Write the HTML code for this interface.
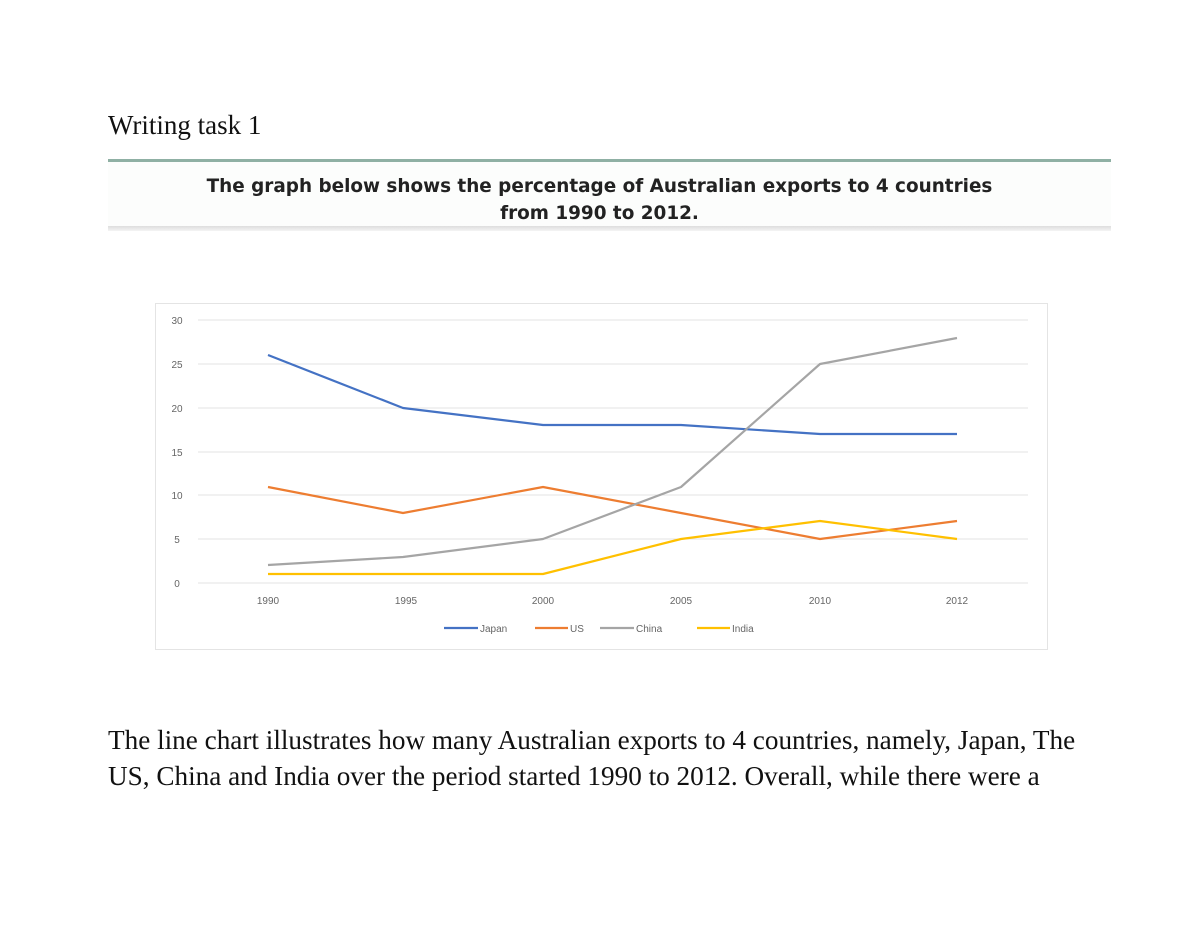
<!DOCTYPE html>
<html><head><style>
body{margin:0;width:1200px;height:927px;background:#fff;position:relative;overflow:hidden}
.s{font-family:"Liberation Serif",serif;color:#111;position:absolute}
</style></head><body>
<div class="s" style="left:108px;top:110px;font-size:27px">Writing task 1</div>
<div style="position:absolute;left:108px;top:159px;width:1003px;height:3px;background:#8fb0a4"></div>
<div style="position:absolute;left:108px;top:162px;width:1003px;height:64px;background:#fcfdfc"></div>
<div style="position:absolute;left:98px;top:173px;width:1003px;text-align:center;font-family:'DejaVu Sans',sans-serif;font-weight:bold;font-size:18.4px;line-height:27px;color:#222">The graph below shows the percentage of Australian exports to 4 countries<br>from 1990 to 2012.</div>
<div style="position:absolute;left:108px;top:226px;width:1003px;height:5px;background:linear-gradient(#ddd,#f4f4f4)"></div>
<svg style="position:absolute;left:0;top:0" width="1200" height="927">
<rect x="155.5" y="303.5" width="892" height="346" fill="#fff" stroke="#e4e4e4"/>
<g stroke="#e3e3e3" stroke-width="1">
<line x1="198" x2="1028" y1="320" y2="320"/><line x1="198" x2="1028" y1="364" y2="364"/>
<line x1="198" x2="1028" y1="408" y2="408"/><line x1="198" x2="1028" y1="452" y2="452"/>
<line x1="198" x2="1028" y1="495" y2="495"/><line x1="198" x2="1028" y1="539" y2="539"/>
<line x1="198" x2="1028" y1="583" y2="583"/></g>
<g font-family="Liberation Sans,sans-serif" font-size="10" fill="#666" text-anchor="middle">
<text x="177" y="324">30</text><text x="177" y="368">25</text><text x="177" y="412">20</text>
<text x="177" y="456">15</text><text x="177" y="499">10</text><text x="177" y="543">5</text><text x="177" y="587">0</text>
<text x="268" y="604">1990</text><text x="406" y="604">1995</text><text x="543" y="604">2000</text>
<text x="681" y="604">2005</text><text x="820" y="604">2010</text><text x="957" y="604">2012</text>
</g>
<g fill="none" stroke-width="2.2" stroke-linejoin="round">
<polyline stroke="#4472c4" points="268,355 403,408 543,425 681,425 820,434 957,434"/>
<polyline stroke="#ed7d31" points="268,487 403,513 543,487 681,513 820,539 957,521"/>
<polyline stroke="#a5a5a5" points="268,565 403,557 543,539 681,487 820,364 957,338"/>
<polyline stroke="#ffc000" points="268,574 403,574 543,574 681,539 820,521 957,539"/>
</g>
<g stroke-width="2.2"><line x1="444" x2="478" y1="628" y2="628" stroke="#4472c4"/>
<line x1="535" x2="568" y1="628" y2="628" stroke="#ed7d31"/>
<line x1="600" x2="634" y1="628" y2="628" stroke="#a5a5a5"/>
<line x1="697" x2="730" y1="628" y2="628" stroke="#ffc000"/></g>
<g font-family="Liberation Sans,sans-serif" font-size="10" fill="#666">
<text x="480" y="632">Japan</text><text x="570" y="632">US</text><text x="636" y="632">China</text><text x="732" y="632">India</text></g>
</svg>
<div class="s" style="left:108px;top:722px;font-size:27.2px;line-height:36px;width:1090px;white-space:nowrap">The line chart illustrates how many Australian exports to 4 countries, namely, Japan, The<br>US, China and India over the period started 1990 to 2012. Overall, while there were a</div>
</body></html>
